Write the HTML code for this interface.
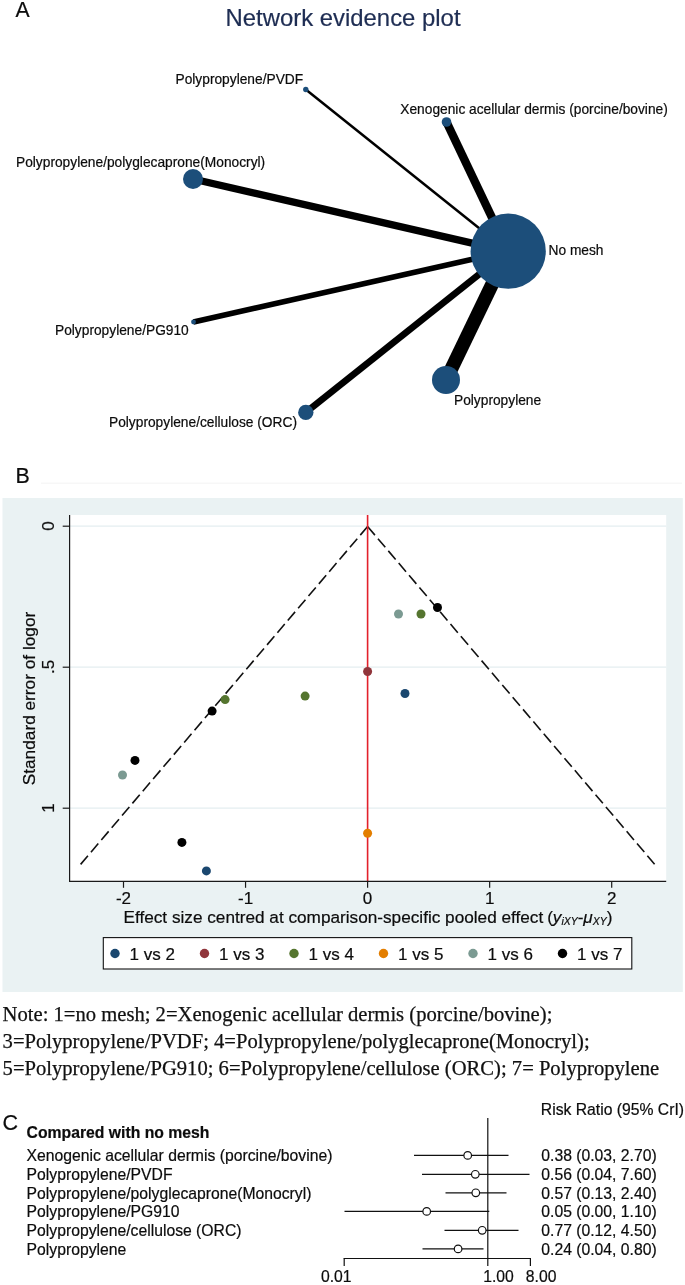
<!DOCTYPE html>
<html lang="en">
<head>
<meta charset="utf-8">
<title>Network evidence plot</title>
<style>
html,body{margin:0;padding:0;background:#fff;}
#wrap{position:relative;width:685px;height:1285px;overflow:hidden;background:#fff;font-family:"Liberation Sans",Arial,sans-serif;color:#111;}
svg{position:absolute;left:0;top:0;}
svg text{font-family:"Liberation Sans",Arial,sans-serif;fill:#0c0c0c;stroke:#0c0c0c;stroke-width:0.2px;}
.note{position:absolute;left:2.6px;-webkit-text-stroke:0.25px #111;font-family:"Liberation Serif","Times New Roman",serif;font-size:20.61px;line-height:27px;color:#111;white-space:nowrap;}
</style>
</head>
<body>
<div id="wrap">
<svg width="685" height="1285" viewBox="0 0 685 1285">
<!-- ================= A : network ================= -->
<text x="15.5" y="17.1" font-size="21.2">A</text>
<text x="343" y="25.7" font-size="23.9" text-anchor="middle" style="fill:#1e2d53;stroke:#1e2d53">Network evidence plot</text>
<g stroke="#000" stroke-linecap="butt">
<line x1="305.8" y1="89.5" x2="508" y2="251.3" stroke-width="2.5"/>
<line x1="446.5" y1="122" x2="508" y2="251.3" stroke-width="8.4"/>
<line x1="193" y1="179" x2="508" y2="251.3" stroke-width="7.4"/>
<line x1="193.5" y1="322" x2="508" y2="251.3" stroke-width="5.7"/>
<line x1="305.8" y1="412.4" x2="508" y2="251.3" stroke-width="6.7"/>
<line x1="446" y1="380" x2="508" y2="251.3" stroke-width="13.7"/>
</g>
<g fill="#1c4e7a">
<circle cx="305.8" cy="89.5" r="2.7"/>
<circle cx="446.5" cy="122" r="4.8"/>
<circle cx="193" cy="179" r="10"/>
<circle cx="193.5" cy="322" r="2.4"/>
<circle cx="305.8" cy="412.4" r="7.7"/>
<circle cx="446" cy="380" r="14"/>
<circle cx="508.2" cy="251.2" r="37.6"/>
</g>
<g font-size="13.75">
<text x="175.5" y="84.2">Polypropylene/PVDF</text>
<text x="400.3" y="114.2">Xenogenic acellular dermis (porcine/bovine)</text>
<text x="16" y="166.5">Polypropylene/polyglecaprone(Monocryl)</text>
<text x="548.5" y="255.4">No mesh</text>
<text x="55" y="334.8">Polypropylene/PG910</text>
<text x="109" y="426.8">Polypropylene/cellulose (ORC)</text>
<text x="454" y="404.6">Polypropylene</text>
</g>

<!-- ================= B : funnel ================= -->
<text x="15.6" y="483.4" font-size="21.4">B</text>
<line x1="41" y1="483.2" x2="682" y2="483.2" stroke="#f3f3f3" stroke-width="1"/>
<rect x="2.5" y="498" width="680.3" height="494" fill="#eaf2f3"/>
<rect x="69.7" y="515" width="596.5" height="366.2" fill="#fff"/>
<g stroke="#e4eef0" stroke-width="1.2">
<line x1="70" y1="526.2" x2="666.2" y2="526.2"/>
<line x1="70" y1="667.2" x2="666.2" y2="667.2"/>
<line x1="70" y1="808.2" x2="666.2" y2="808.2"/>
</g>
<g stroke="#111" stroke-width="1.6" fill="none" stroke-dasharray="11.3 4.7">
<line x1="367.6" y1="526.5" x2="80.4" y2="864.6"/>
<line x1="367.6" y1="526.5" x2="654.6" y2="864.2"/>
</g>
<line x1="367.6" y1="515" x2="367.6" y2="881" stroke="#e3202b" stroke-width="1.6"/>
<g stroke="#1a1a1a" stroke-width="1.2">
<line x1="69.6" y1="515" x2="69.6" y2="882"/>
<line x1="69" y1="881.4" x2="666.2" y2="881.4"/>
<line x1="62.7" y1="526.2" x2="69.7" y2="526.2"/>
<line x1="62.7" y1="667.2" x2="69.7" y2="667.2"/>
<line x1="62.7" y1="808.2" x2="69.7" y2="808.2"/>
<line x1="123.5" y1="881.4" x2="123.5" y2="887.8"/>
<line x1="245.55" y1="881.4" x2="245.55" y2="887.8"/>
<line x1="367.6" y1="881.4" x2="367.6" y2="887.8"/>
<line x1="489.65" y1="881.4" x2="489.65" y2="887.8"/>
<line x1="611.7" y1="881.4" x2="611.7" y2="887.8"/>
</g>
<g>
<circle cx="437.5" cy="607.5" r="4.5" fill="#000"/>
<circle cx="398.5" cy="614" r="4.5" fill="#7b9a92"/>
<circle cx="421" cy="614" r="4.5" fill="#55752f"/>
<circle cx="367.6" cy="671.5" r="4.5" fill="#90353b"/>
<circle cx="405" cy="693.5" r="4.5" fill="#1a476f"/>
<circle cx="225.1" cy="699.6" r="4.5" fill="#55752f"/>
<circle cx="305.1" cy="696.1" r="4.5" fill="#55752f"/>
<circle cx="212.1" cy="711.1" r="4.5" fill="#000"/>
<circle cx="135" cy="760.4" r="4.5" fill="#000"/>
<circle cx="122.5" cy="775" r="4.5" fill="#7b9a92"/>
<circle cx="367.6" cy="833.2" r="4.5" fill="#e37e00"/>
<circle cx="181.9" cy="842.4" r="4.5" fill="#000"/>
<circle cx="206.4" cy="870.9" r="4.5" fill="#1a476f"/>
</g>
<g font-size="17" text-anchor="middle">
<text x="123.5" y="903.9">-2</text>
<text x="245.55" y="903.9">-1</text>
<text x="367.6" y="903.9">0</text>
<text x="489.65" y="903.9">1</text>
<text x="611.7" y="903.9">2</text>
<text transform="translate(53.8,526) rotate(-90)">0</text>
<text transform="translate(53.8,667) rotate(-90)">.5</text>
<text transform="translate(53.8,808) rotate(-90)">1</text>
</g>
<text transform="translate(35.3,698.5) rotate(-90)" font-size="17.25" text-anchor="middle">Standard error of logor</text>
<text id="xt" x="123.5" y="922.8" font-size="17.19">Effect size centred at comparison-specific pooled effect<tspan dx="3.9">(</tspan><tspan font-style="italic">y</tspan><tspan font-style="italic" font-size="10.4" dy="2">iXY</tspan><tspan dy="-2">-</tspan><tspan font-style="italic">μ</tspan><tspan font-style="italic" font-size="10.4" dy="2">XY</tspan><tspan dy="-2">)</tspan></text>
<rect x="103.3" y="937.6" width="528.5" height="31.4" fill="#fff" stroke="#111" stroke-width="1.1"/>
<g font-size="17">
<circle cx="115" cy="953.5" r="4.7" fill="#1a476f"/><text x="129.5" y="959.6">1 vs 2</text>
<circle cx="204.5" cy="953.5" r="4.7" fill="#90353b"/><text x="219" y="959.6">1 vs 3</text>
<circle cx="294" cy="953.5" r="4.7" fill="#55752f"/><text x="308.5" y="959.6">1 vs 4</text>
<circle cx="383.5" cy="953.5" r="4.7" fill="#e37e00"/><text x="398" y="959.6">1 vs 5</text>
<circle cx="473" cy="953.5" r="4.7" fill="#7b9a92"/><text x="487.5" y="959.6">1 vs 6</text>
<circle cx="562.5" cy="953.5" r="4.7" fill="#000"/><text x="577" y="959.6">1 vs 7</text>
</g>

<!-- ================= C : forest ================= -->
<text x="2.6" y="1130.2" font-size="21.5">C</text>
<text x="26.6" y="1138.3" font-size="15.75" font-weight="bold">Compared with no mesh</text>
<text x="540.8" y="1114.6" font-size="15.73">Risk Ratio (95% CrI)</text>
<g font-size="15.72">
<text x="26.6" y="1161.3">Xenogenic acellular dermis (porcine/bovine)</text>
<text x="26.6" y="1180.2">Polypropylene/PVDF</text>
<text x="26.6" y="1198.7">Polypropylene/polyglecaprone(Monocryl)</text>
<text x="26.6" y="1217.3">Polypropylene/PG910</text>
<text x="26.6" y="1236.2">Polypropylene/cellulose (ORC)</text>
<text x="26.6" y="1254.8">Polypropylene</text>
<text x="541.3" y="1161.3">0.38 (0.03, 2.70)</text>
<text x="541.3" y="1180.2">0.56 (0.04, 7.60)</text>
<text x="541.3" y="1198.7">0.57 (0.13, 2.40)</text>
<text x="541.3" y="1217.3">0.05 (0.00, 1.10)</text>
<text x="541.3" y="1236.2">0.77 (0.12, 4.50)</text>
<text x="541.3" y="1254.8">0.24 (0.04, 0.80)</text>
<text x="321" y="1281.6">0.01</text>
<text x="483.2" y="1281.6">1.00</text>
<text x="525.8" y="1281.6">8.00</text>
</g>
<g stroke="#111" stroke-width="1.2" fill="none">
<line x1="487.8" y1="1118" x2="487.8" y2="1258.5"/>
<line x1="343.6" y1="1258.5" x2="531" y2="1258.5"/>
<line x1="344.2" y1="1258.5" x2="344.2" y2="1266"/>
<line x1="487.8" y1="1258.5" x2="487.8" y2="1266"/>
<line x1="530.4" y1="1258.5" x2="530.4" y2="1266"/>
<line x1="414" y1="1155.4" x2="508.5" y2="1155.4"/>
<line x1="422" y1="1174.3" x2="529.5" y2="1174.3"/>
<line x1="445.5" y1="1192.8" x2="506.5" y2="1192.8"/>
<line x1="344.5" y1="1211.4" x2="489.3" y2="1211.4"/>
<line x1="444.5" y1="1230.3" x2="518.5" y2="1230.3"/>
<line x1="422.5" y1="1248.9" x2="483.5" y2="1248.9"/>
</g>
<g stroke="#111" stroke-width="1.2" fill="#fff">
<circle cx="467.7" cy="1155.4" r="3.8"/>
<circle cx="475.3" cy="1174.3" r="3.8"/>
<circle cx="475.8" cy="1192.8" r="3.8"/>
<circle cx="426.7" cy="1211.4" r="3.8"/>
<circle cx="482.2" cy="1230.3" r="3.8"/>
<circle cx="458.1" cy="1248.9" r="3.8"/>
</g>
</svg>
<div class="note" style="top:1001px;">Note: 1=no mesh; 2=Xenogenic acellular dermis (porcine/bovine);</div>
<div class="note" style="top:1028px;">3=Polypropylene/PVDF; 4=Polypropylene/polyglecaprone(Monocryl);</div>
<div class="note" style="top:1055px;">5=Polypropylene/PG910; 6=Polypropylene/cellulose (ORC); 7= Polypropylene</div>
</div>
</body>
</html>
